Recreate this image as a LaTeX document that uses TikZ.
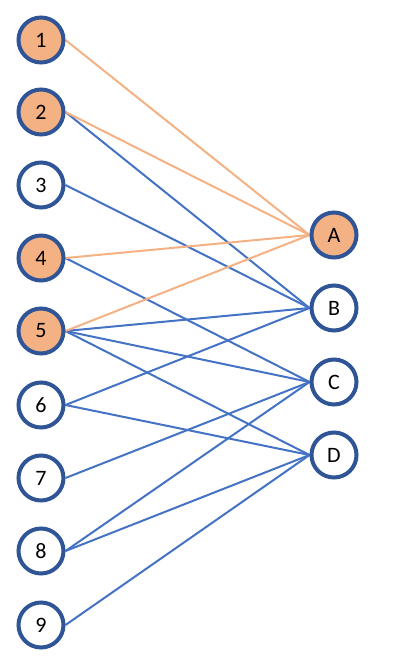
\documentclass[tikz,border=0pt]{standalone}
\usepackage{fontspec}
\setmainfont{Carlito}
\usetikzlibrary{backgrounds}
\definecolor{nodeborder}{HTML}{2F5597}
\definecolor{orangefill}{HTML}{F4B183}
\definecolor{edgeblue}{HTML}{4472C4}
\tikzset{
  vtx/.style={circle, draw=nodeborder, line width=4pt, fill=white, minimum size=45pt, inner sep=0pt, font=\fontsize{22}{26}\selectfont},
  sel/.style={vtx, fill=orangefill},
  bedge/.style={draw=edgeblue, line width=2pt},
  oedge/.style={draw=orangefill, line width=2pt},
}
\begin{document}
\begin{tikzpicture}[x=1pt,y=-1pt]
\useasboundingbox (0,0) rectangle (415,666);
\node[sel] (n1) at (41,40) {1};
\node[sel] (n2) at (41,112) {2};
\node[vtx] (n3) at (41,185) {3};
\node[sel] (n4) at (41,258) {4};
\node[sel] (n5) at (41,331) {5};
\node[vtx] (n6) at (41,405) {6};
\node[vtx] (n7) at (41,478) {7};
\node[vtx] (n8) at (41,551) {8};
\node[vtx] (n9) at (41,625) {9};
\node[sel] (A) at (334,235) {A};
\node[vtx] (B) at (334,308) {B};
\node[vtx] (C) at (334,382) {C};
\node[vtx] (D) at (334,455) {D};
\begin{scope}[on background layer]
\draw[bedge] (n2.east) -- (B.west);
\draw[bedge] (n3.east) -- (B.west);
\draw[bedge] (n4.east) -- (C.west);
\draw[bedge] (n5.east) -- (B.west);
\draw[bedge] (n5.east) -- (C.west);
\draw[bedge] (n5.east) -- (D.west);
\draw[bedge] (n6.east) -- (B.west);
\draw[bedge] (n6.east) -- (D.west);
\draw[bedge] (n7.east) -- (C.west);
\draw[bedge] (n8.east) -- (C.west);
\draw[bedge] (n8.east) -- (D.west);
\draw[bedge] (n9.east) -- (D.west);
\draw[oedge] (n1.east) -- (A.west);
\draw[oedge] (n2.east) -- (A.west);
\draw[oedge] (n4.east) -- (A.west);
\draw[oedge] (n5.east) -- (A.west);
\end{scope}
\end{tikzpicture}
\end{document}
